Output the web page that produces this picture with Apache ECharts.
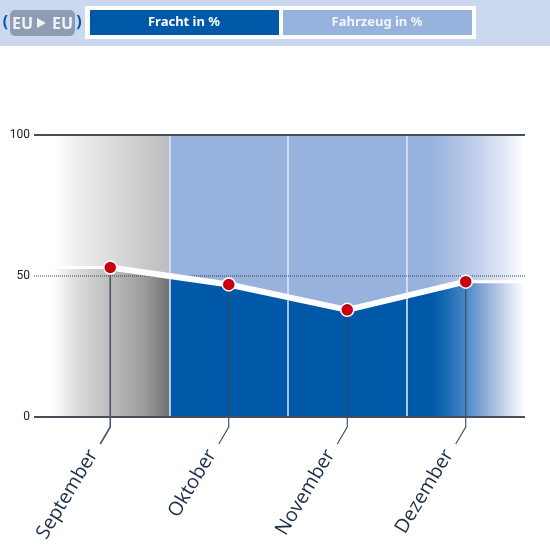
<!DOCTYPE html>
<html><head><meta charset="utf-8">
<style>html,body{margin:0;padding:0;background:#fff}#c{width:550px;height:551px}</style>
<script src="https://cdn.jsdelivr.net/npm/echarts@6/dist/echarts.min.js"></script>
</head><body><div id="c"></div>
<script>
const categories = ['September', 'Oktober', 'November', 'Dezember'];
const frachtValues = [53, 47, 38, 48];
const yTicks = [0, 50, 100];
const legendLabels = ['Fracht in %', 'Fahrzeug in %'];
const routeLabels = ['EU', 'EU'];

const lightBlue = '#97b2dd', darkBlue = '#0058a8';
function stops(a) { return { type: 'linear', x: 0, y: 0, x2: 1, y2: 0, colorStops: a.map(s => ({ offset: s[0], color: s[1] })) }; }
const topFills = [
  stops([[0, '#ffffff'], [0.04, '#ffffff'], [0.2, '#f0f0f0'], [0.5, '#dcdcdc'], [1, '#bcbcbc']]),
  lightBlue, lightBlue,
  stops([[0, lightBlue], [0.2, lightBlue], [0.6, '#c3d0eb'], [0.85, '#e6ebf8'], [1, '#ffffff']])
];
const bottomFills = [
  stops([[0, '#ffffff'], [0.04, '#fbfbfb'], [0.2, '#dedede'], [0.5, '#bcbcbc'], [0.8, '#9a9a9a'], [1, '#707070']]),
  darkBlue, darkBlue,
  stops([[0, darkBlue], [0.2, darkBlue], [0.35, '#1a6eb6'], [0.5, '#4a86c6'], [0.7, '#9ab4dc'], [0.88, '#dbe3f4'], [1, '#ffffff']])
];
const ink = '#46505e';

const chart = echarts.init(document.getElementById('c'), null, { renderer: 'canvas' });
chart.setOption({
  animation: false,
  backgroundColor: '#fff',
  grid: { left: 51, right: 25, top: 135, bottom: 134 },
  xAxis: {
    type: 'category', data: categories, z: 3,
    axisLine: { show: false }, axisTick: { show: false },
    splitLine: { show: true, showMinLine: false, showMaxLine: false, lineStyle: { color: '#dfe7f5', width: 1.5 } },
    axisLabel: {
      interval: 0, rotate: 59, margin: 6, padding: [0, 33, 0, 0],
      fontFamily: 'Open Sans', fontSize: 19.5, color: '#1d2f4a'
    }
  },
  yAxis: {
    type: 'value', min: 0, max: 100, interval: 50,
    axisLine: { show: false }, axisTick: { show: false }, splitLine: { show: false },
    axisLabel: { margin: 21, padding: [2, 0, 0, 0], fontFamily: 'Roboto', fontSize: 12, color: '#222' }
  },
  series: [
    { // coloured bands above and below the Fracht line
      type: 'custom', z: 1, silent: true, clip: false,
      data: frachtValues.map((v, i) => [i, v]),
      renderItem(params, api) {
        const i = api.value(0), v = api.value(1);
        const c = api.coord([i, v]), w = api.size([1, 0])[0];
        const lv = i > 0 ? (frachtValues[i - 1] + v) / 2 : v;
        const rv = i < frachtValues.length - 1 ? (frachtValues[i + 1] + v) / 2 : v;
        const L = c[0] - w / 2, R = c[0] + w / 2;
        const yL = api.coord([i, lv])[1], yR = api.coord([i, rv])[1];
        const y0 = api.coord([i, 0])[1], y100 = api.coord([i, 100])[1];
        return { type: 'group', children: [
          { type: 'polygon', shape: { points: [[L, y100], [R, y100], [R, yR], [c[0], c[1]], [L, yL]] }, style: { fill: topFills[i] } },
          { type: 'polygon', shape: { points: [[L, y0], [R, y0], [R, yR], [c[0], c[1]], [L, yL]] }, style: { fill: bottomFills[i] } }
        ] };
      }
    },
    { // horizontal value lines
      type: 'custom', z: 4, silent: true, clip: false,
      data: yTicks.map(t => [0, t]),
      renderItem(params, api) {
        const t = api.value(1), y = api.coord([0, t])[1];
        const right = params.coordSys.x + params.coordSys.width;
        const strong = t !== 50;
        return { type: 'line', shape: { x1: 34, y1: y, x2: right, y2: y },
          style: { stroke: strong ? ink : '#39424f', lineWidth: strong ? 2 : 1, lineDash: strong ? null : [1, 1] } };
      }
    },
    { // flat white continuation of the line at both ends
      type: 'custom', z: 5, silent: true, clip: false,
      data: [[0, frachtValues[0]], [categories.length - 1, frachtValues[categories.length - 1]]],
      renderItem(params, api) {
        const i = api.value(0), c = api.coord([i, api.value(1)]), w = api.size([1, 0])[0];
        const end = i === 0 ? c[0] - w / 2 : c[0] + w / 2;
        return { type: 'line', shape: { x1: c[0], y1: c[1], x2: end, y2: c[1] }, style: { stroke: '#fff', lineWidth: 3 } };
      }
    },
    { // leader lines from each point to its month label
      type: 'custom', z: 6, silent: true, clip: false,
      data: frachtValues.map((v, i) => [i, v]),
      renderItem(params, api) {
        const i = api.value(0), c = api.coord([i, api.value(1)]), y0 = api.coord([0, 0])[1];
        return { type: 'polyline', shape: { points: [[c[0], c[1]], [c[0], y0 + 10], [c[0] - 10, y0 + 27]] },
          style: { stroke: i === 0 ? '#4a5666' : '#3c4757', lineWidth: i === 0 ? 1.6 : 1.1, fill: null } };
      }
    },
    {
      name: 'Fracht in %', type: 'line', z: 7, data: frachtValues,
      lineStyle: { color: '#fff', width: 6 },
      symbol: 'circle', symbolSize: 13,
      itemStyle: { color: '#c8000f', borderColor: '#fff', borderWidth: 1.5 }
    }
  ],
  graphic: [
    { type: 'rect', z: 10, shape: { x: 0, y: 0, width: 550, height: 46 }, style: { fill: '#ccd8ef' } },
    { type: 'rect', z: 11, shape: { x: 85, y: 6, width: 391, height: 33 }, style: { fill: '#fff' } },
    { type: 'rect', z: 12, shape: { x: 90, y: 10, width: 189, height: 25 }, style: { fill: darkBlue } },
    { type: 'rect', z: 12, shape: { x: 283, y: 10, width: 189, height: 25 }, style: { fill: lightBlue } },
    { type: 'text', z: 13, x: 184, y: 22, style: { text: legendLabels[0], fill: '#fff', font: 'bold 13px "Noto Sans"', align: 'center', verticalAlign: 'middle' } },
    { type: 'text', z: 13, x: 377, y: 22, style: { text: legendLabels[1], fill: '#f2f5fb', font: 'bold 13px "Noto Sans"', align: 'center', verticalAlign: 'middle' } },
    { type: 'rect', z: 11, shape: { x: 10, y: 10, width: 65, height: 26, r: 5 }, style: { fill: '#8e9cb4' } },
    { type: 'text', z: 13, x: 22.5, y: 24, style: { text: routeLabels[0], fill: '#f0f2f6', font: 'bold 16px "Noto Sans"', align: 'center', verticalAlign: 'middle' } },
    { type: 'polygon', z: 13, shape: { points: [[37, 18], [37, 28], [46, 23]] }, style: { fill: '#f0f2f6' } },
    { type: 'text', z: 13, x: 62.5, y: 24, style: { text: routeLabels[1], fill: '#f0f2f6', font: 'bold 16px "Noto Sans"', align: 'center', verticalAlign: 'middle' } },
    { type: 'text', z: 13, x: 5.5, y: 22, style: { text: '(', fill: darkBlue, font: 'bold 16px "Noto Sans"', align: 'center', verticalAlign: 'middle' } },
    { type: 'text', z: 13, x: 79, y: 22, style: { text: ')', fill: darkBlue, font: 'bold 16px "Noto Sans"', align: 'center', verticalAlign: 'middle' } }
  ]
});
</script></body></html>
